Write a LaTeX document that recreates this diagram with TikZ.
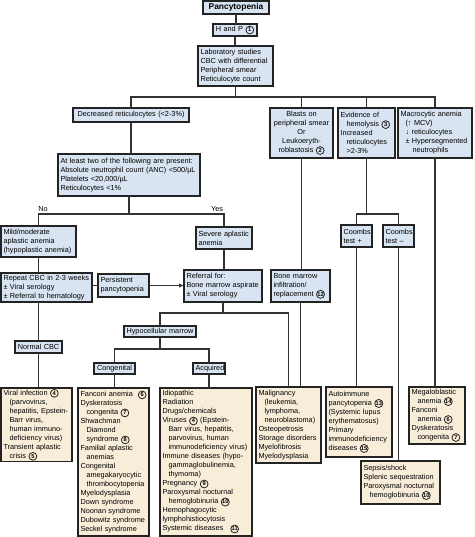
\documentclass[tikz,border=0pt]{standalone}
\usepackage{fontspec}
\setmainfont{Liberation Sans}
\usetikzlibrary{arrows.meta}
\definecolor{bxblue}{RGB}{217,228,242}
\definecolor{bxbeige}{RGB}{248,237,216}
\definecolor{bxline}{RGB}{35,35,35}
\definecolor{lncol}{RGB}{50,50,50}
\newcommand{\bxfont}{\fontsize{7.3}{9}\selectfont\hyphenpenalty=10000\exhyphenpenalty=10000}
\newcommand{\ind}{\hspace*{6pt}}
\newcommand{\nb}[1]{\mbox{#1}}
\newcommand{\cnum}[1]{\tikz[baseline=(cnumnode.base)]\node[circle,draw=bxline,fill=none,line width=0.8pt,inner sep=0.2pt,minimum size=7.8pt,text width={},align=center,font=\fontsize{5.7}{5.7}\selectfont\bfseries](cnumnode){#1};}
\newcommand{\rcn}[1]{\hspace{0pt plus 1filll}\cnum{#1}}
\newcommand{\bx}[7]{%
  \pgfmathsetmacro{\bxw}{#5-#3}%
  \pgfmathsetmacro{\bxh}{#6-#4}%
  \pgfmathsetmacro{\bxt}{#5-#3-5}%
  \node[#2,minimum width=\bxw pt,minimum height=\bxh pt,text width=\bxt pt,anchor=north west] (#1) at (#3,#4) {#7};}
\tikzset{
  bbox/.style={draw=bxline,line width=1.15pt,fill=bxblue,inner xsep=2.5pt,inner ysep=1pt,outer sep=0pt,font=\bxfont,align=left},
  bboxc/.style={bbox,align=center},
  ybox/.style={bbox,fill=bxbeige},
  conn/.style={draw=lncol,line width=1.15pt},
  lbl/.style={font=\bxfont,inner sep=0pt}
}
\begin{document}
\begin{tikzpicture}[x=1pt,y=-1pt]
\path[use as bounding box,fill=white] (0,0) rectangle (474,537);
% blue boxes
\bx{pan}{bboxc,font=\fontsize{8.4}{10}\selectfont\bfseries}{203}{1}{269}{14}{Pancytopenia}
\bx{hp}{bboxc}{213}{24}{257}{36}{H and P \cnum{1}}
\bx{lab}{bbox}{198}{46}{273}{86}{Laboratory studies\\CBC with differential\\Peripheral smear\\Reticulocyte count}
\bx{dec}{bboxc}{73}{108}{189}{122}{Decreased reticulocytes (<2-3\%)}
\bx{blast}{bboxc}{270}{108}{333}{158}{Blasts on\\\nb{peripheral smear}\\Or\\Leukoeryth-\\\nb{roblastosis \cnum{2}}}
\bx{evid}{bbox}{338}{108}{395}{158}{Evidence of\\\ind\nb{hemolysis \cnum{3}}\\Increased\\\ind reticulocytes\\\ind >2-3\%}
\bx{mac}{bbox}{398}{108}{472}{158}{\nb{Macrocytic anemia}\\\hspace*{5pt}(↑ MCV)\\\hspace*{5pt}\nb{↓ reticulocytes}\\\hspace*{5pt}\nb{± Hypersegmented}\\\hspace*{12pt}neutrophils}
\bx{atl}{bbox}{58}{154}{200}{196}{\nb{At least two of the following are present:}\\\nb{Absolute neutrophil count (ANC) <500/µL}\\Platelets <20,000/µL\\Reticulocytes <1\%}
\bx{mild}{bbox}{1}{226}{76}{257}{Mild/moderate\\\nb{aplastic anemia}\\\nb{(hypoplastic anemia)}}
\bx{sev}{bbox}{196}{227}{252}{249}{\nb{Severe aplastic}\\anemia}
\bx{cpos}{bbox}{341}{225}{372}{247}{Coombs\\test +}
\bx{cneg}{bbox}{383}{225}{414}{247}{Coombs\\test –}
\bx{rep}{bbox}{1}{273}{92}{302}{\nb{Repeat CBC in 2-3 weeks}\\± Viral serology\\\nb{± Referral to hematology}}
\bx{per}{bbox}{98}{274}{149}{297}{Persistent\\pancytopenia}
\bx{ref}{bbox}{184}{270}{262}{302}{Referral for:\\\nb{Bone marrow aspirate}\\± Viral serology}
\bx{bone}{bbox}{271}{270}{330}{302}{Bone marrow\\infiltration/\\\nb{replacement \cnum{12}}}
\bx{hypo}{bboxc}{124}{326}{196}{337}{\nb{Hypocellular marrow}}
\bx{norm}{bboxc}{15}{341}{62}{353}{Normal CBC}
\bx{cong}{bboxc}{94}{363}{135}{374}{Congenital}
\bx{acq}{bboxc}{193}{363}{225}{374}{Acquired}
% beige boxes
\bx{viral}{ybox}{1}{388}{72}{460}{\nb{Viral infection \cnum{4}}\\\ind(parvovirus,\\\ind\nb{hepatitis, Epstein-}\\\ind\nb{Barr virus,}\\\ind\nb{human immuno-}\\\ind\nb{deficiency virus)}\\\nb{Transient aplastic}\\\ind crisis \cnum{5}}
\bx{cgl}{ybox}{78}{388}{149}{536}{Fanconi anemia\rcn{6}\\Dyskeratosis\\\ind\nb{congenita \cnum{7}}\\Shwachman\\\ind Diamond\\\ind\nb{syndrome \cnum{8}}\\\nb{Familial aplastic}\\\ind anemias\\Congenital\\\ind amegakaryocytic\\\ind thrombocytopenia\\Myelodysplasia\\\nb{Down syndrome}\\\nb{Noonan syndrome}\\\nb{Dubowitz syndrome}\\\nb{Seckel syndrome}}
\bx{acl}{ybox}{160}{388}{252}{536}{Idiopathic\\Radiation\\Drugs/chemicals\\\nb{Viruses \cnum{4} (Epstein-}\\\ind\nb{Barr virus, hepatitis,}\\\ind\nb{parvovirus, human}\\\ind\nb{immunodeficiency virus)}\\\nb{Immune diseases (hypo-}\\\ind\nb{gammaglobulinemia,}\\\ind thymoma)\\\nb{Pregnancy \cnum{9}}\\\nb{Paroxysmal nocturnal}\\\ind\nb{hemoglobinuria \cnum{10}}\\Hemophagocytic\\lymphohistiocytosis\\\nb{Systemic diseases\hspace{7pt}\cnum{11}}}
\bx{mal}{ybox}{256}{387}{321}{463}{Malignancy\\\ind(leukemia,\\\ind lymphoma,\\\ind\nb{neuroblastoma)}\\Osteopetrosis\\\nb{Storage disorders}\\Myelofibrosis\\Myelodysplasia}
\bx{auto}{ybox}{326}{387}{392}{457}{Autoimmune\\\nb{pancytopenia \cnum{13}}\\\nb{(Systemic lupus}\\erythematosus)\\Primary\\immunodeficiency\\\nb{diseases \cnum{15}}}
\bx{mega}{ybox}{409}{387}{465}{444}{Megaloblastic\\\ind\nb{anemia \cnum{14}}\\Fanconi\\\ind\nb{anemia \cnum{6}}\\Dyskeratosis\\\ind\nb{congenita \cnum{7}}}
\bx{sep}{ybox}{361}{461}{440}{504}{Sepsis/shock\\\nb{Splenic sequestration}\\\nb{Paroxysmal nocturnal}\\\ind\nb{hemoglobinuria \cnum{10}}}
% bus levels
\coordinate (b1) at (0,97);
\coordinate (b2) at (0,214);
\coordinate (b3) at (0,313);
\coordinate (b4) at (0,349);
% labels
\node[lbl] (lno) at (43,209) {No};
\node[lbl] (lyes) at (217,209) {Yes};
% connectors
\draw[conn] (pan.south) -- (pan.south |- hp.north);
\draw[conn] (hp.south) -- (hp.south |- lab.north);
\draw[conn] (lab.south) -- (lab.south |- b1);
\draw[conn] (dec.north) |- (mac.north |- b1) -- (mac.north);
\draw[conn] (blast.north) -- (blast.north |- b1);
\draw[conn] (evid.north) -- (evid.north |- b1);
\draw[conn] (dec.south) -- (dec.south |- atl.north);
\draw[conn] (atl.south) -- (atl.south |- b2);
\draw[conn] (mild.north) |- (sev.north |- b2) -- (sev.north);
\draw[conn] (mild.south) -- (mild.south |- rep.north);
\draw[conn] (sev.south) -- (sev.south |- ref.north);
\draw[conn] (rep.east |- per.west) -- (per.west);
\draw[conn,-{Latex[length=5pt,width=4.5pt]}] (per.east) -- (ref.west |- per.east);
\draw[conn] (blast.south) -- (blast.south |- bone.north);
\draw[conn] (bone.south) -- (bone.south |- mal.north);
\draw[conn] (ref.south) -- (ref.south |- b3);
\draw[conn] (hypo.north) |- (mal.north |- b3) -- (mal.north);
\draw[conn] (hypo.south) -- (hypo.south |- b4);
\draw[conn] (cong.north) |- (acq.north |- b4) -- (acq.north);
\draw[conn] (cong.south) -- (cong.south |- cgl.north);
\draw[conn] (acq.south) -- (acq.south |- acl.north);
\draw[conn] (norm.north |- rep.south) -- (norm.north);
\draw[conn] (norm.south) -- (norm.south |- viral.north);
\draw[conn] (evid.south) -- (evid.south |- b2);
\draw[conn] (cpos.north) |- (cneg.north |- b2) -- (cneg.north);
\draw[conn] (cpos.south) -- (cpos.south |- auto.north);
\draw[conn] (cneg.south) -- (cneg.south |- sep.north);
\draw[conn] (mac.south) -- (mac.south |- mega.north);
\end{tikzpicture}
\end{document}
